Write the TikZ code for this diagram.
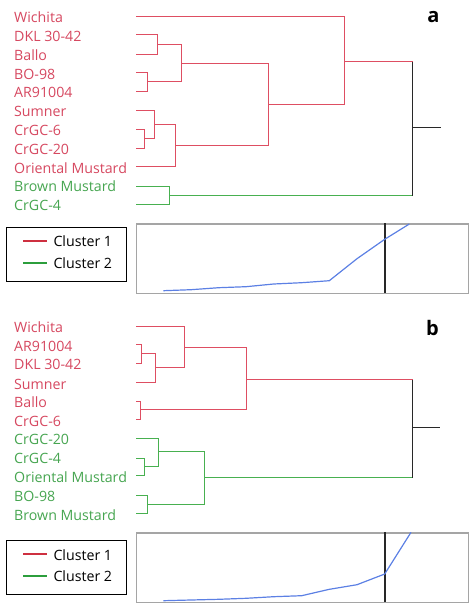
\documentclass[tikz,border=0pt]{standalone}
\usepackage{fontspec}
\setmainfont{Open Sans}
\definecolor{cred}{RGB}{222,78,98}
\definecolor{cgreen}{RGB}{72,176,80}
\definecolor{tred}{RGB}{214,72,96}
\definecolor{tgreen}{RGB}{70,165,80}
\definecolor{lred}{RGB}{206,48,64}
\definecolor{lgreen}{RGB}{44,158,60}
\definecolor{cblue}{RGB}{92,128,228}
\definecolor{cgray}{RGB}{165,165,165}
\definecolor{cdark}{RGB}{40,40,40}
\tikzset{
  lab/.style={anchor=west, inner sep=0pt, font=\fontsize{14.2}{15}\selectfont},
  labr/.style={lab, text=tred},
  labg/.style={lab, text=tgreen},
  rline/.style={draw=cred, line width=1.1pt},
  gline/.style={draw=cgreen, line width=1.1pt},
  kline/.style={draw=cdark, line width=1.5pt},
  legline/.style={line width=2pt},
  panel/.style={inner sep=0pt, font=\fontsize{20}{20}\selectfont\bfseries},
  legbox/.style={draw=black, line width=1pt},
  chartbox/.style={draw=cgray, line width=1.2pt},
  curve/.style={draw=cblue, line width=1.2pt},
}
\begin{document}
\begin{tikzpicture}[x=1pt,y=-1pt]
\useasboundingbox (0,0) rectangle (474,605);
% ===== Panel a =====
\node[labr] (a1) at (14,17) {Wichita};
\node[labr] (a2) at (14,36.5) {DKL 30-42};
\node[labr] (a3) at (14,55) {Ballo};
\node[labr] (a4) at (14,74) {BO-98};
\node[labr] (a5) at (14,92.5) {AR91004};
\node[labr] (a6) at (14,111.5) {Sumner};
\node[labr] (a7) at (14,130) {CrGC-6};
\node[labr] (a8) at (14,149) {CrGC-20};
\node[labr] (a9) at (14,168) {Oriental Mustard};
\node[labg] (a10) at (14,186.5) {Brown Mustard};
\node[labg] (a11) at (14,205.5) {CrGC-4};
\node[panel] (pa) at (433.5,17) {a};
% tree a
\draw[rline] (136,16.5) -- (344.5,16.5) -- (344.5,104.5) -- (268.5,104.5);
\draw[rline] (136,34.5) -- (157.5,34.5) -- (157.5,54.5) -- (136,54.5);
\draw[rline] (157.5,44.5) -- (181.5,44.5);
\draw[rline] (136,72.5) -- (147.5,72.5) -- (147.5,91.5) -- (136,91.5);
\draw[rline] (147.5,81.5) -- (181.5,81.5);
\draw[rline] (181.5,44.5) -- (181.5,81.5);
\draw[rline] (181.5,63.5) -- (268.5,63.5) -- (268.5,145.5) -- (175.5,145.5);
\draw[rline] (136,129.5) -- (144.5,129.5) -- (144.5,148.5) -- (136,148.5);
\draw[rline] (144.5,138.5) -- (154.5,138.5);
\draw[rline] (136,110.5) -- (154.5,110.5) -- (154.5,138.5);
\draw[rline] (154.5,124.5) -- (175.5,124.5) -- (175.5,166.5) -- (136,166.5);
\draw[rline] (344.5,61.5) -- (412.5,61.5);
\draw[gline] (136,186.5) -- (169.5,186.5) -- (169.5,204.5) -- (136,204.5);
\draw[gline] (169.5,195.5) -- (412.5,195.5);
\draw[kline] (412.5,61.5) -- (412.5,195.5);
\draw[kline] (412.5,127.5) -- (440.5,127.5);
% legend a
\node[legbox, minimum width=120.3pt, minimum height=53.4pt, anchor=north west, inner sep=0pt] (lga) at (5.7,227.3) {};
\coordinate (lar1) at (23,241); \coordinate (lar2) at (47,241);
\coordinate (lag1) at (23,263); \coordinate (lag2) at (47,263);
\draw[legline, draw=lred] (lar1) -- (lar2);
\draw[legline, draw=lgreen] (lag1) -- (lag2);
\node[lab] (lta) at (53.3,241.5) {Cluster 1};
\node[lab] (ltb) at (53.3,263) {Cluster 2};
% chart a
\node[chartbox, minimum width=331.7pt, minimum height=69.4pt, anchor=north west, inner sep=0pt] (cha) at (136,223.3) {};
\draw[kline, line width=1.2pt] (385,223.3) -- (385,292.7);
\begin{scope}
\clip (136,223.3) rectangle (467.7,292.7);
\draw[curve] (163.3,290.7) -- (191,289.7) -- (218.7,287.7) -- (246,286.7) -- (273.7,284) -- (301.7,282.7) -- (329.3,280.7) -- (357,258.7) -- (384.7,239.3) -- (409.3,224);
\end{scope}
% ===== Panel b =====
\node[labr] (b1) at (14,327) {Wichita};
\node[labr] (b2) at (14,346) {AR91004};
\node[labr] (b3) at (14,364.5) {DKL 30-42};
\node[labr] (b4) at (14,384) {Sumner};
\node[labr] (b5) at (14,402) {Ballo};
\node[labr] (b6) at (14,421) {CrGC-6};
\node[labg] (b7) at (14,439.5) {CrGC-20};
\node[labg] (b8) at (14,458.5) {CrGC-4};
\node[labg] (b9) at (14,477.5) {Oriental Mustard};
\node[labg] (b10) at (14,496) {BO-98};
\node[labg] (b11) at (14,515) {Brown Mustard};
\node[panel] (pb) at (432.5,328) {b};
% tree b
\draw[rline] (136,326.5) -- (184.5,326.5) -- (184.5,367.5) -- (155.5,367.5);
\draw[rline] (136,344.5) -- (141.5,344.5) -- (141.5,363.5) -- (136,363.5);
\draw[rline] (141.5,353.5) -- (155.5,353.5);
\draw[rline] (136,382.5) -- (155.5,382.5) -- (155.5,353.5);
\draw[rline] (184.5,347.5) -- (246.5,347.5) -- (246.5,409.5) -- (140.5,409.5);
\draw[rline] (136,401.5) -- (140.5,401.5) -- (140.5,419.5) -- (136,419.5);
\draw[rline] (246.5,379.5) -- (412.5,379.5);
\draw[gline] (136,438.5) -- (158.5,438.5) -- (158.5,466.5) -- (144.5,466.5);
\draw[gline] (136,458.5) -- (144.5,458.5) -- (144.5,475.5) -- (136,475.5);
\draw[gline] (158.5,451.5) -- (204.5,451.5) -- (204.5,504.5) -- (147.5,504.5);
\draw[gline] (136,495.5) -- (147.5,495.5) -- (147.5,513.5) -- (136,513.5);
\draw[gline] (204.5,477.5) -- (412.5,477.5);
\draw[kline] (412.5,379.5) -- (412.5,477.5);
\draw[kline] (412.5,427.5) -- (439.5,427.5);
% legend b
\node[legbox, minimum width=120.3pt, minimum height=54pt, anchor=north west, inner sep=0pt] (lgb) at (5.7,540) {};
\coordinate (lbr1) at (23,554); \coordinate (lbr2) at (47,554);
\coordinate (lbg1) at (23,576); \coordinate (lbg2) at (47,576);
\draw[legline, draw=lred] (lbr1) -- (lbr2);
\draw[legline, draw=lgreen] (lbg1) -- (lbg2);
\node[lab] (ltc) at (53.3,554.8) {Cluster 1};
\node[lab] (ltd) at (53.3,576.3) {Cluster 2};
% chart b
\node[chartbox, minimum width=331.7pt, minimum height=69.7pt, anchor=north west, inner sep=0pt] (chb) at (136,532.3) {};
\draw[kline, line width=1.2pt] (385,532.3) -- (385,602);
\begin{scope}
\clip (136,532.3) rectangle (467.7,602);
\draw[curve] (163.3,600.7) -- (191,600) -- (218.7,599.3) -- (246,598.3) -- (273.7,596.7) -- (301.7,595.7) -- (329.3,589.3) -- (357,584.7) -- (384.7,574) -- (411,532.3);
\end{scope}
\end{tikzpicture}
\end{document}
